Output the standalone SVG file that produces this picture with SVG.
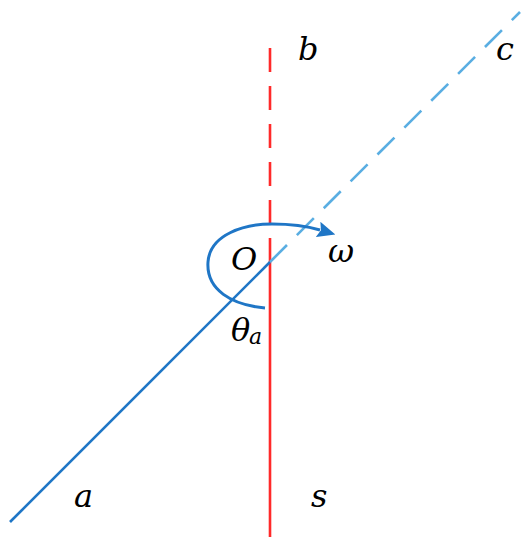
<svg xmlns="http://www.w3.org/2000/svg" width="530" height="550" viewBox="0 0 530 550">
<style>
.red{stroke:#ff2a2a;stroke-width:2.6;fill:none}
.blue{stroke:#1f76c6;stroke-width:2.6;fill:none}
.lblue{stroke:#5aaee2;stroke-width:2.6;fill:none}
</style>
<defs>
<marker id="ah" markerWidth="18" markerHeight="16" refX="2" refY="8" orient="auto" markerUnits="userSpaceOnUse">
<path d="M0,0 L18,8 L0,16 L3,8 Z" fill="#1f76c6"/>
</marker>
</defs>
<g id="connectors">
<line id="b-axis" class="red" x1="270" y1="48" x2="270" y2="238" stroke-dasharray="24 14"/>
<line id="s-axis" class="red" x1="270" y1="238" x2="270" y2="537"/>
<line id="a-line" class="blue" x1="10" y1="522" x2="270" y2="262"/>
<line id="c-line" class="lblue" x1="270" y1="262" x2="520" y2="12" stroke-dasharray="24 14"/>
<path id="omega-arc" stroke="#1f76c6" stroke-width="3" fill="none" d="M265,308 C232,305 206,290 208,262 C210,234 245,224 272,224 C296,224 310,227 320,230" marker-end="url(#ah)"/>
</g>
<g font-family="DejaVu Serif, serif" font-style="italic" font-size="32" fill="#000">
<g id="label-b"><text x="298" y="60">b</text></g>
<g id="label-c"><text x="496" y="60">c</text></g>
<g id="label-O"><text x="231" y="270">O</text></g>
<g id="label-omega"><text x="328" y="262">ω</text></g>
<g id="label-theta"><text x="231" y="341">θ</text><text x="249" y="344" font-size="22">a</text></g>
<g id="label-a"><text x="74" y="507">a</text></g>
<g id="label-s"><text x="311" y="507">s</text></g>
</g>
</svg>
